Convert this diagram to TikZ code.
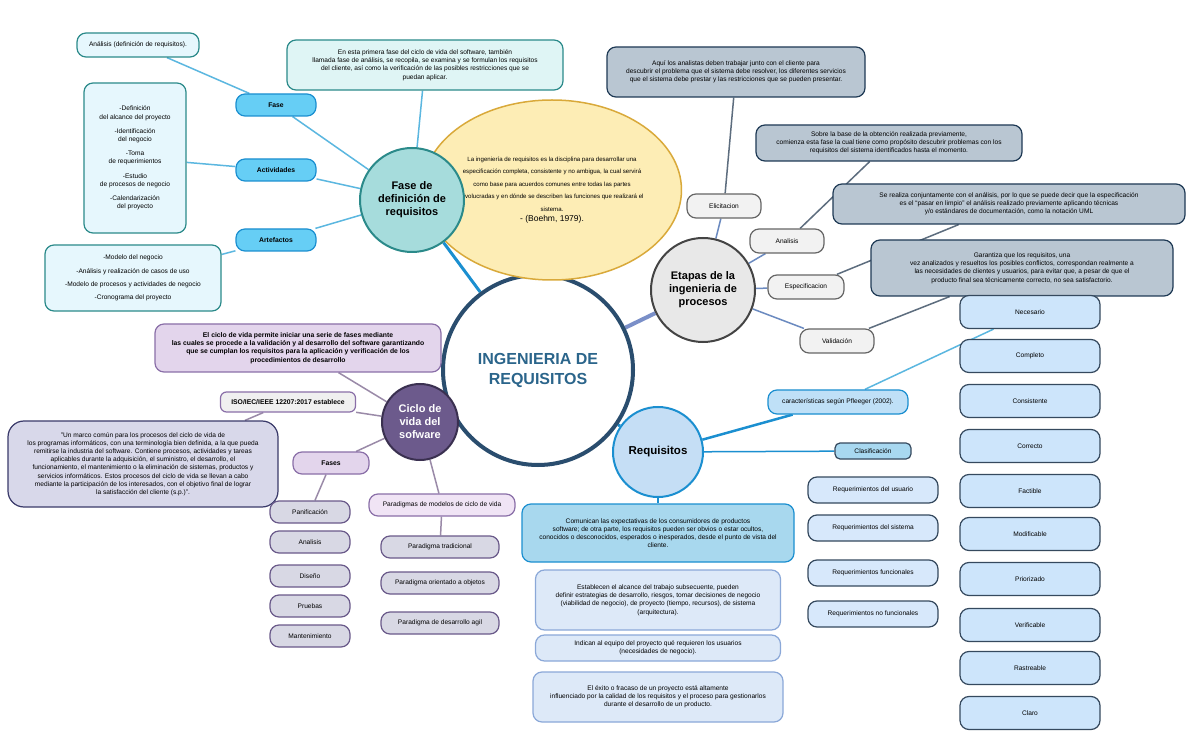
\documentclass[tikz,border=0pt]{standalone}
\usepackage{fontspec}
\setmainfont{Liberation Sans}
\usetikzlibrary{shapes.geometric}
\pgfdeclarelayer{back}
\pgfdeclarelayer{bg}
\pgfsetlayers{back,bg,main}
\definecolor{bigb}{HTML}{2A4D6E}
\definecolor{blu}{HTML}{1B8FD0}
\definecolor{lblu}{HTML}{5BB7E0}
\definecolor{teal}{HTML}{2B8A8A}
\definecolor{dkb}{HTML}{1F3A55}
\definecolor{pur}{HTML}{6C5A8C}
\definecolor{lpur}{HTML}{9A8AA8}
\definecolor{peri}{HTML}{6B8AC0}
\definecolor{HTML-b9c6d2}{HTML}{B9C6D2}
\definecolor{HTML-cde5fb}{HTML}{CDE5FB}
\definecolor{HTML-35495e}{HTML}{35495E}
\definecolor{HTML-d7e8fb}{HTML}{D7E8FB}
\definecolor{HTML-dde9f8}{HTML}{DDE9F8}
\definecolor{HTML-8ba8d8}{HTML}{8BA8D8}
\definecolor{HTML-d8d8e4}{HTML}{D8D8E4}
\definecolor{HTML-6a5a8a}{HTML}{6A5A8A}
\definecolor{HTML-d9a93a}{HTML}{D9A93A}
\definecolor{HTML-fde9a9}{HTML}{FDEDB5}
\definecolor{HTML-a6dcdc}{HTML}{A6DCDC}
\definecolor{HTML-dff5f5}{HTML}{DFF5F5}
\definecolor{HTML-444444}{HTML}{444444}
\definecolor{HTML-e8e8e8}{HTML}{E8E8E8}
\definecolor{HTML-c5def5}{HTML}{C5DEF5}
\definecolor{HTML-bfe0f7}{HTML}{BFE0F7}
\definecolor{HTML-a8d8f0}{HTML}{A8D8F0}
\definecolor{HTML-a8d8ee}{HTML}{A8D8EE}
\definecolor{HTML-e3d5ec}{HTML}{E3D5EC}
\definecolor{HTML-8a6fa8}{HTML}{8A6FA8}
\definecolor{HTML-3a3050}{HTML}{3A3050}
\definecolor{HTML-e0e0ee}{HTML}{D8D8EA}
\definecolor{HTML-3a3a6a}{HTML}{3A3A6A}
\definecolor{HTML-f0e4f5}{HTML}{F0E4F5}
\definecolor{HTML-e0a020}{HTML}{E0A020}
\definecolor{HTML-7a8fc8}{HTML}{7A8FC8}
\tikzset{
 bx/.style={draw,rounded corners=9pt,align=center,font=\fontsize{6.6}{8.2}\selectfont,line width=1.2pt,inner sep=2pt},
 tealbox/.style={bx,fill=cyan!10,draw=teal},
 cyanbox/.style={bx,fill=cyan!60,draw=blu,font=\fontsize{6.8}{8.2}\selectfont\bfseries},
 graybox/.style={bx,fill=gray!10,draw=gray!80!black},
 slatebox/.style={bx,fill=HTML-b9c6d2,draw=dkb},
 rbox/.style={bx,fill=HTML-cde5fb,draw=HTML-35495e,minimum width=140pt,minimum height=33pt},
 qbox/.style={bx,fill=HTML-d7e8fb,draw=HTML-35495e,minimum width=130pt,minimum height=26pt},
 lbbox/.style={bx,fill=HTML-dde9f8,draw=HTML-8ba8d8},
 pbox/.style={bx,fill=HTML-d8d8e4,draw=HTML-6a5a8a,minimum height=22pt},
 cn/.style={line width=1.5pt},
}
\begin{document}
\begin{tikzpicture}[x=1pt,y=-1pt]
\begin{pgfonlayer}{back}
\useasboundingbox[fill=white] (0,0) rectangle (1200,751);
\end{pgfonlayer}
\node[circle,draw=bigb,line width=4pt,fill=white,minimum size=190pt,align=center,text=HTML-35495e!60!blu,font=\fontsize{16}{20}\selectfont\bfseries] (main) at (538,370) {INGENIERIA DE\\REQUISITOS};
\node[ellipse,draw=HTML-d9a93a,fill=HTML-fde9a9,line width=1.5pt,minimum width=222pt,minimum height=180pt,inner sep=0pt,align=center,font=\fontsize{6.1}{12.5}\selectfont] (def) at (552,190) {La ingeniería de requisitos es la disciplina para desarrollar una\\especificación completa, consistente y no ambigua, la cual servirá\\como base para acuerdos comunes entre todas las partes\\involucradas y en dónde se describen las funciones que realizará el\\sistema.\\[-2pt]{\fontsize{8.5}{10}\selectfont - (Boehm, 1979).}};
\node[circle,draw=teal,fill=HTML-a6dcdc,line width=2pt,minimum size=104pt,align=center,font=\fontsize{11}{13}\selectfont\bfseries] (fdef) at (412,200) {Fase de\\definición de\\requisitos};
\node[cyanbox,minimum width=80pt,minimum height=22pt] (fase) at (276,105) {Fase};
\node[cyanbox,minimum width=80pt,minimum height=22pt] (act) at (276,170) {Actividades};
\node[cyanbox,minimum width=80pt,minimum height=22pt] (art) at (276,240) {Artefactos};
\node[tealbox,minimum width=122pt,minimum height=24pt] (anal) at (138,45) {Análisis (definición de requisitos).};
\node[tealbox,minimum width=102pt,minimum height=150pt] (actl) at (135,158) {-Definición\\del alcance del proyecto\\[6pt]-Identificación\\del negocio\\[6pt]-Toma\\de requerimientos\\[6pt]-Estudio\\de procesos de negocio\\[6pt]-Calendarización\\del proyecto};
\node[tealbox,minimum width=176pt,minimum height=66pt] (artl) at (133,278) {-Modelo del negocio\\[5pt]-Análisis y realización de casos de uso\\[5pt]-Modelo de procesos y actividades de negocio\\[5pt]-Cronograma del proyecto};
\node[tealbox,fill=HTML-dff5f5,minimum width=276pt,minimum height=50pt] (ftxt) at (425,65) {En esta primera fase del ciclo de vida del software, también\\llamada fase de análisis, se recopila, se examina y se formulan los requisitos\\del cliente, así como la verificación de las posibles restricciones que se\\puedan aplicar.};
\node[circle,draw=HTML-444444,fill=HTML-e8e8e8,line width=2pt,minimum size=104pt,align=center,font=\fontsize{11}{13}\selectfont\bfseries] (etap) at (703,290) {Etapas de la\\ingenieria de\\procesos};
\node[graybox,minimum width=74pt,minimum height=24pt] (eli) at (724,206) {Elicitacion};
\node[graybox,minimum width=74pt,minimum height=24pt] (ana) at (787,241) {Analisis};
\node[graybox,minimum width=76pt,minimum height=24pt] (esp) at (806,287) {Especificacion};
\node[graybox,minimum width=74pt,minimum height=24pt] (val) at (837,341) {Validación};
\node[slatebox,minimum width=258pt,minimum height=50pt] (e1) at (736,72) {Aquí los analistas deben trabajar junto con el cliente para\\descubrir el problema que el sistema debe resolver, los diferentes servicios\\que el sistema debe prestar y las restricciones que se pueden presentar.};
\node[slatebox,minimum width=266pt,minimum height=36pt] (e2) at (889,143) {Sobre la base de la obtención realizada previamente,\\comienza esta fase la cual tiene como propósito descubrir problemas con los\\requisitos del sistema identificados hasta el momento.};
\node[slatebox,minimum width=352pt,minimum height=40pt] (e3) at (1009,204) {Se realiza conjuntamente con el análisis, por lo que se puede decir que la especificación\\es el “pasar en limpio” el análisis realizado previamente aplicando técnicas\\y/o estándares de documentación, como la notación UML};
\node[slatebox,minimum width=302pt,minimum height=56pt] (e4) at (1022,268) {Garantiza que los requisitos, una\\vez analizados y resueltos los posibles conflictos, correspondan realmente a\\las necesidades de clientes y usuarios, para evitar que, a pesar de que el\\producto final sea técnicamente correcto, no sea satisfactorio.};
\node[circle,draw=blu,fill=HTML-c5def5,line width=2pt,minimum size=90pt,font=\fontsize{11.5}{13}\selectfont\bfseries] (req) at (658,452) {Requisitos};
\node[bx,fill=HTML-bfe0f7,draw=blu,minimum width=140pt,minimum height=24pt] (pfl) at (838,402) {características según Pfleeger (2002).};
\foreach \n/\t/\y in {r1/Necesario/312,r2/Completo/356,r3/Consistente/401,r4/Correcto/446,r5/Factible/491,r6/Modificable/534,r7/Priorizado/579,r8/Verificable/625,r9/Rastreable/668,r10/Claro/713}
  \node[rbox] (\n) at (1030,\y) {\t};
\node[bx,fill=HTML-a8d8f0,draw=HTML-35495e,rounded corners=5pt,minimum width=76pt,minimum height=16pt,inner sep=1pt] (clas) at (873,451) {Clasificación};
\node[qbox] (q1) at (873,490) {Requerimientos del usuario};
\node[qbox] (q2) at (873,528) {Requerimientos del sistema};
\node[qbox] (q3) at (873,573) {Requerimientos funcionales};
\node[qbox] (q4) at (873,614) {Requerimientos no funcionales};
\node[bx,fill=HTML-a8d8ee,draw=blu,minimum width=272pt,minimum height=58pt] (com) at (658,533) {Comunican las expectativas de los consumidores de productos\\software; de otra parte, los requisitos pueden ser obvios o estar ocultos,\\conocidos o desconocidos, esperados o inesperados, desde el punto de vista del\\cliente.};
\node[lbbox,minimum width=245pt,minimum height=60pt] (est) at (658,600) {Establecen el alcance del trabajo subsecuente, pueden\\definir estrategias de desarrollo, riesgos, tomar decisiones de negocio\\(viabilidad de negocio), de proyecto (tiempo, recursos), de sistema\\(arquitectura).};
\node[lbbox,minimum width=245pt,minimum height=26pt] (ind) at (658,648) {Indican al equipo del proyecto qué requieren los usuarios\\(necesidades de negocio).};
\node[lbbox,minimum width=250pt,minimum height=50pt] (exi) at (658,697) {El éxito o fracaso de un proyecto está altamente\\influenciado por la calidad de los requisitos y el proceso para gestionarlos\\durante el desarrollo de un producto.};
\node[circle,draw=HTML-3a3050,fill=pur,line width=2pt,minimum size=76pt,align=center,text=white,font=\fontsize{11}{13}\selectfont\bfseries] (cic) at (420,422) {Ciclo de\\vida del\\sofware};
\node[bx,fill=HTML-e3d5ec,draw=HTML-8a6fa8,minimum width=286pt,minimum height=48pt,font=\fontsize{6.8}{8.4}\selectfont\bfseries] (cvp) at (298,348) {El ciclo de vida permite iniciar una serie de fases mediante\\las cuales se procede a la validación y al desarrollo del software garantizando\\que se cumplan los requisitos para la aplicación y verificación de los\\procedimientos de desarrollo};
\node[bx,fill=gray!12,draw=HTML-8a6fa8,minimum width=135pt,minimum height=20pt,rounded corners=6pt,font=\fontsize{6.8}{8.2}\selectfont\bfseries] (iso) at (288,402) {ISO/IEC/IEEE 12207:2017 establece};
\node[bx,fill=HTML-e0e0ee,draw=HTML-3a3a6a,rounded corners=16pt,minimum width=270pt,minimum height=86pt] (mar) at (143,464) {"Un marco común para los procesos del ciclo de vida de\\los programas informáticos, con una terminología bien definida, a la que pueda\\remitirse la industria del software. Contiene procesos, actividades y tareas\\aplicables durante la adquisición, el suministro, el desarrollo, el\\funcionamiento, el mantenimiento o la eliminación de sistemas, productos y\\servicios informáticos. Estos procesos del ciclo de vida se llevan a cabo\\mediante la participación de los interesados, con el objetivo final de lograr\\la satisfacción del cliente (s.p.)".};
\node[bx,fill=HTML-e3d5ec,draw=HTML-8a6fa8,minimum width=76pt,minimum height=22pt,font=\fontsize{6.8}{8.2}\selectfont\bfseries] (fas) at (331,463) {Fases};
\foreach \n/\t/\y in {p1/Panificación/512,p2/Analisis/542,p3/Diseño/576,p4/Pruebas/606,p5/Mantenimiento/636}
  \node[pbox,minimum width=80pt] (\n) at (310,\y) {\t};
\node[pbox,fill=HTML-f0e4f5,draw=HTML-8a6fa8,minimum width=146pt] (par) at (442,505) {Paradigmas de modelos de ciclo de vida};
\node[pbox,minimum width=118pt] (d1) at (440,547) {Paradigma tradicional};
\node[pbox,minimum width=118pt] (d2) at (440,583) {Paradigma orientado a objetos};
\node[pbox,minimum width=118pt] (d3) at (440,623) {Paradigma de desarrollo agil};
\begin{pgfonlayer}{bg}
\draw[blu,line width=3pt] (main) -- (fdef);
\draw[HTML-e0a020,line width=3pt] (main) -- (def);
\draw[HTML-7a8fc8,line width=4pt] (main) -- (etap);
\draw[blu,line width=3pt] (main) -- (req);
\draw[blu,line width=3pt] (main) -- (cic);
\draw[lblu,cn] (fdef) -- (fase);
\draw[lblu,cn] (fdef) -- (act);
\draw[lblu,cn] (fdef) -- (art);
\draw[lblu,cn] (fase) -- (anal);
\draw[lblu,cn] (act) -- (actl);
\draw[lblu,cn] (art) -- (artl);
\draw[lblu,cn] (fdef) -- (ftxt);
\foreach \s/\t in {eli/e1,ana/e2,esp/e3,val/e4} {\draw[peri,cn] (etap) -- (\s); \draw[HTML-35495e!80,cn] (\s) -- (\t);}
\draw[blu,line width=2.5pt] (req) -- (pfl);
\draw[lblu,cn] (pfl) -- (r1);
\draw[blu,cn] (req) -- (clas);
\draw[blu,line width=2.5pt] (req) -- (com);
\draw[lpur,cn] (cic) -- (cvp);
\draw[lpur,cn] (cic) -- (iso);
\draw[lpur,cn] (iso) -- (mar);
\draw[lpur,cn] (cic) -- (fas);
\draw[lpur,cn] (fas) -- (p1);
\draw[lpur,cn] (cic) -- (par);
\draw[lpur,cn] (par) -- (d1);
\end{pgfonlayer}
\end{tikzpicture}
\end{document}
